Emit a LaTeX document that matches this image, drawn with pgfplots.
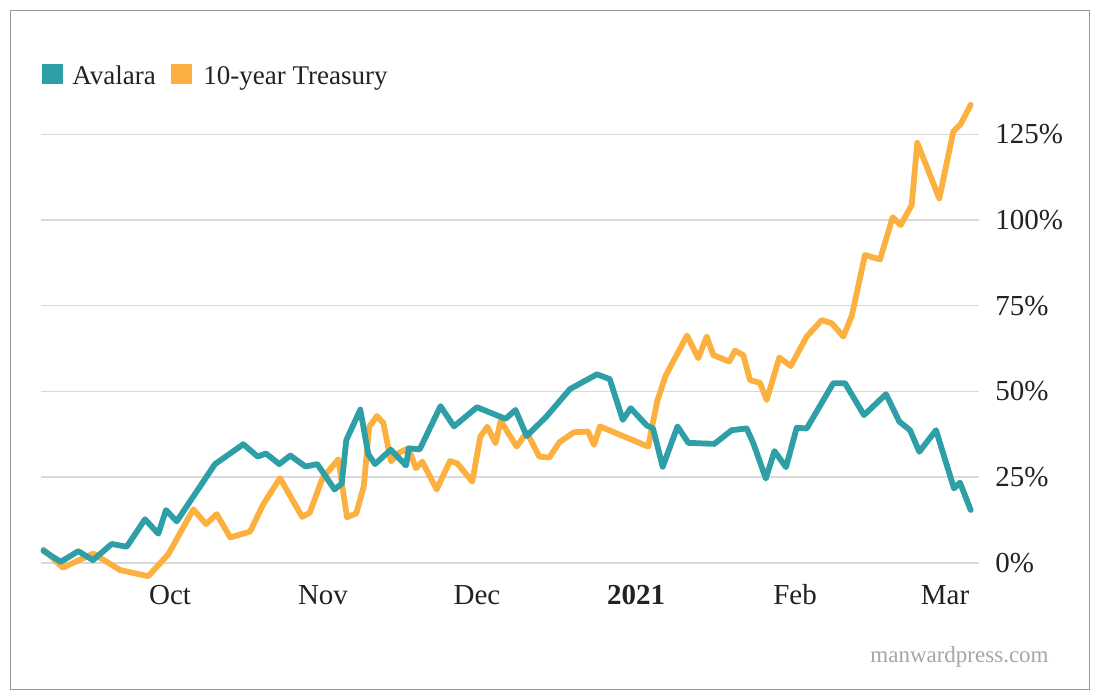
\documentclass[border=0pt]{standalone}
\usepackage{pgfplots}
\pgfplotsset{compat=1.18}
\usepackage{fontspec}
\setmainfont{Liberation Serif}

\definecolor{avateal}{HTML}{2E9FA7}
\definecolor{tsyorange}{HTML}{FBB040}
\definecolor{gridgray}{HTML}{D9D9D9}
\definecolor{txt}{HTML}{222222}

\begin{document}
\begin{tikzpicture}
% x in pixels of the original picture, y in percent
\begin{axis}[
    at={(20.5pt,-302.5pt)}, anchor=south west,
    x=0.5pt, y=1.714pt,
    xmin=41, xmax=979,
    ymin=-12.3, ymax=135,
    clip=false,
    axis line style={draw=none},
    major tick length=0pt,
    tick style={draw=none},
    ymajorgrids,
    grid style={gridgray, line width=0.7pt},
    ytick={0,25,50,75,100,125},
    yticklabels={0\%,25\%,50\%,75\%,100\%,125\%},
    yticklabel pos=right,
    yticklabel style={anchor=west, inner sep=0pt, xshift=8pt, font=\fontsize{14.5}{17}\selectfont, text=txt},
    xtick={170,323,477,636,795,945},
    xticklabels={Oct,Nov,Dec,\textbf{2021},Feb,Mar},
    xticklabel style={anchor=base, inner sep=0pt, font=\fontsize{14.5}{17}\selectfont, text=txt},
    every axis plot/.append style={line width=2.9pt, line join=round, line cap=round},
  ]
  % Treasury
  \addplot[tsyorange] coordinates {
    (43.5,3.9)(62.8,-1.4)(93.3,2.7)(120,-2.1)(148.3,-3.9)(168.3,2.5)(193.3,15.6)(206,11.3)
    (216.7,14.2)(230.3,7.4)(250,9.1)(263.3,17.1)(280,24.7)(302.2,13.4)(309.7,14.6)(322.5,24.7)
    (338.3,30.2)(347,13.3)(356.3,14.4)(363.8,22.4)(369.2,39.7)(377,42.8)(383.3,40.8)(391,29.6)
    (400,32.3)(408.3,33.4)(416,27.6)(422.3,29.5)(436.7,21.4)(450,29.7)(457.3,29.0)(472.3,23.7)
    (480.3,36.8)(487.3,39.7)(495.5,34.9)(500.7,41.4)(516.7,33.9)(526.7,38.1)(539.3,31.0)(549.3,30.7)
    (559.5,35.2)(574,38.1)(588,38.3)(594,34.4)(600,39.8)(648.3,33.9)(651.7,39.2)(657.3,47.2)
    (665.5,54.5)(687,66.3)(698.3,59.7)(706.7,66.0)(713.3,60.6)(729.3,58.7)(735,61.9)(743.3,60.6)
    (750,53.3)(760,52.5)(766.7,47.5)(779.3,59.9)(790.7,57.4)(806.7,66.0)(821.7,70.8)(831.7,69.9)
    (843.3,66.0)(851.7,72.0)(865,89.8)(880,88.5)(892.7,100.8)(900.7,98.5)(911.7,104.4)(917.3,122.5)
    (939.3,106.3)(953.3,125.8)(960.7,128.0)(970.7,133.6)
  };
  % Avalara
  \addplot[avateal] coordinates {
    (43.5,3.5)(60.7,0.3)(78.3,3.4)(93,0.8)(111.7,5.5)(126.7,4.7)(145,12.7)(158.3,8.5)
    (166,15.4)(176.7,12.1)(215,28.8)(243.3,34.6)(257.7,31.0)(266,31.9)(279.3,28.8)(290.3,31.3)
    (305.5,28.1)(317.3,28.8)(334.5,21.4)(341.7,23.1)(346.3,35.8)(360.3,44.7)(368.3,31.7)(375,28.8)
    (390.8,33.0)(406,28.4)(408.8,33.4)(419.7,33.1)(440.5,45.7)(454,39.8)(477,45.4)(505.5,42.0)
    (515.5,44.6)(526.7,37.0)(546.5,42.7)(570,50.7)(597,55.0)(609.7,53.6)(622.8,41.7)(630.7,45.1)
    (646.7,40.1)(653,39.2)(662.7,28.0)(677.5,39.8)(688.3,35.0)(714.3,34.7)(731.7,38.7)(746.7,39.2)
    (753.3,34.9)(765.8,24.6)(774.5,32.6)(786,27.9)(796.7,39.4)(806.7,39.2)(833.3,52.4)(845,52.4)
    (864,43.1)(886,49.2)(899.3,41.2)(910,38.7)(919.3,32.4)(936,38.7)(954,21.7)(960,23.4)
    (970.7,15.4)
  };
\end{axis}

% frame, legend and credit, in pixel units (y downwards)
\begin{scope}[x=0.5pt, y=-0.5pt]
  \path (0,0) rectangle (1100,700);
  \draw[gray!80, line width=0.8pt] (10.5,10.5) rectangle (1089.5,689.5);
  \fill[avateal] (42,64) rectangle (63,84);
  \node[anchor=base west, inner sep=0pt, text=txt, font=\fontsize{13.5}{16}\selectfont] at (72,85) {Avalara};
  \fill[tsyorange] (171,64) rectangle (192,84);
  \node[anchor=base west, inner sep=0pt, text=txt, font=\fontsize{13.5}{16}\selectfont] at (203,85) {10-year Treasury};
  \node[anchor=base east, inner sep=0pt, text=black!35, font=\fontsize{11.5}{14}\selectfont] at (1049,663) {manwardpress.com};
\end{scope}
\end{tikzpicture}
\end{document}
